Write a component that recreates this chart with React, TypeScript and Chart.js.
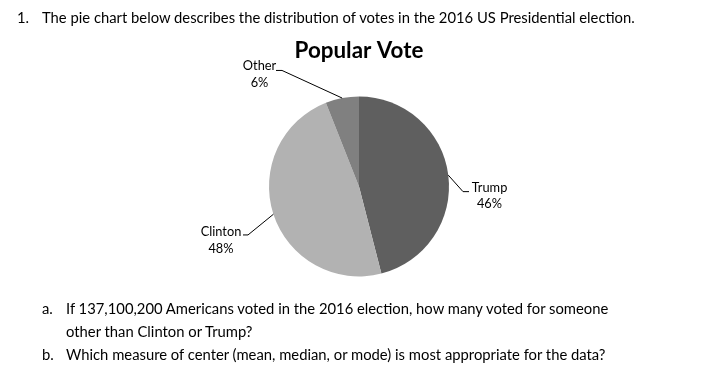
import React, { useEffect, useRef } from 'react';
import { Chart, registerables } from 'chart.js';

Chart.register(...registerables);

// ---- data ----
const categories = ['Trump', 'Clinton', 'Other'];
const voteShares = [46, 48, 6];
const sliceColors = ['#5f5f5f', '#b2b2b2', '#808080'];
const chartTitle = 'Popular Vote';
const introText = 'The pie chart below describes the distribution of votes in the 2016 US Presidential election.';
const questionA1 = 'If 137,100,200 Americans voted in the 2016 election, how many voted for someone';
const questionA2 = 'other than Clinton or Trump?';
const questionB = 'Which measure of center (mean, median, or mode) is most appropriate for the data?';

// label placement relative to pie centre (px)
const labelPlacement: Record<string, { elbow: [number, number]; end: [number, number]; tx: number; b1: number; b2: number }> = {
  Trump: { elbow: [104, 5.2], end: [110, 5.2], tx: 130.5, b1: 5.8, b2: 21.2 },
  Clinton: { elbow: [-111, 48.5], end: [-116, 48.5], tx: -138, b1: 49.5, b2: 66.2 },
  Other: { elbow: [-77, -116], end: [-83, -116], tx: -99.5, b1: -116.5, b2: -99.8 },
};

const FONT = 'Lato, "Open Sans", sans-serif';
const LABEL_FS = 12.8;

const leaderLabels = {
  id: 'leaderLabels',
  afterDatasetsDraw(chart: any) {
    const ctx = chart.ctx;
    const meta = chart.getDatasetMeta(0);
    const labels = chart.data.labels as string[];
    const values = chart.data.datasets[0].data as number[];
    ctx.save();
    meta.data.forEach((arc: any, i: number) => {
      const { x, y, startAngle, endAngle, outerRadius } = arc.getProps(['x', 'y', 'startAngle', 'endAngle', 'outerRadius'], true);
      const mid = (startAngle + endAngle) / 2;
      const ex = x + Math.cos(mid) * outerRadius;
      const ey = y + Math.sin(mid) * outerRadius;
      const p = labelPlacement[labels[i]];
      if (!p) return;
      ctx.beginPath();
      ctx.strokeStyle = '#000000';
      ctx.lineWidth = 1;
      ctx.moveTo(ex, ey);
      ctx.lineTo(x + p.elbow[0], y + p.elbow[1]);
      ctx.lineTo(x + p.end[0], y + p.end[1]);
      ctx.stroke();
      ctx.fillStyle = '#000000';
      ctx.font = `${LABEL_FS}px ${FONT}`;
      ctx.textAlign = 'center';
      ctx.textBaseline = 'alphabetic';
      ctx.fillText(labels[i], x + p.tx, y + p.b1);
      ctx.fillText(`${values[i]}%`, x + p.tx, y + p.b2);
    });
    ctx.restore();
  },
};

const BODY_FS = 14.8;

function TextLine({ x, baseline, text }: { x: number; baseline: number; text: string }) {
  return (
    <div
      style={{
        position: 'absolute',
        left: x,
        top: baseline - 0.887 * BODY_FS,
        fontFamily: FONT,
        fontSize: BODY_FS,
        lineHeight: `${BODY_FS}px`,
        color: '#000',
        whiteSpace: 'nowrap',
      }}
    >
      {text}
    </div>
  );
}

export default function App() {
  const canvasRef = useRef<HTMLCanvasElement | null>(null);

  useEffect(() => {
    if (!canvasRef.current) return;
    const chart = new Chart(canvasRef.current, {
      type: 'pie',
      data: {
        labels: categories,
        datasets: [
          {
            data: voteShares,
            backgroundColor: sliceColors,
            borderWidth: 0,
            radius: 90,
          } as any,
        ],
      },
      options: {
        animation: false,
        responsive: false,
        maintainAspectRatio: false,
        layout: { padding: { left: 9, right: 0, top: 37, bottom: 73 } },
        plugins: {
          legend: { display: false },
          tooltip: { enabled: false },
          title: {
            display: true,
            text: chartTitle,
            color: '#000',
            font: { family: FONT, size: 22.4, weight: 'bold' },
            padding: { top: 0, bottom: 0 },
          },
        },
      },
      plugins: [leaderLabels],
    });
    return () => chart.destroy();
  }, []);

  return (
    <div style={{ position: 'fixed', left: 0, top: 0, width: 709, height: 382, background: '#fff', overflow: 'hidden' }}>
      <canvas ref={canvasRef} width={709} height={382} style={{ position: 'absolute', left: 0, top: 0, width: 709, height: 382 }} />
      <TextLine x={17} baseline={23.3} text="1." />
      <TextLine x={42} baseline={23.3} text={introText} />
      <TextLine x={42} baseline={314} text="a." />
      <TextLine x={66} baseline={314} text={questionA1} />
      <TextLine x={66} baseline={337.5} text={questionA2} />
      <TextLine x={42} baseline={360} text="b." />
      <TextLine x={66} baseline={360} text={questionB} />
    </div>
  );
}
